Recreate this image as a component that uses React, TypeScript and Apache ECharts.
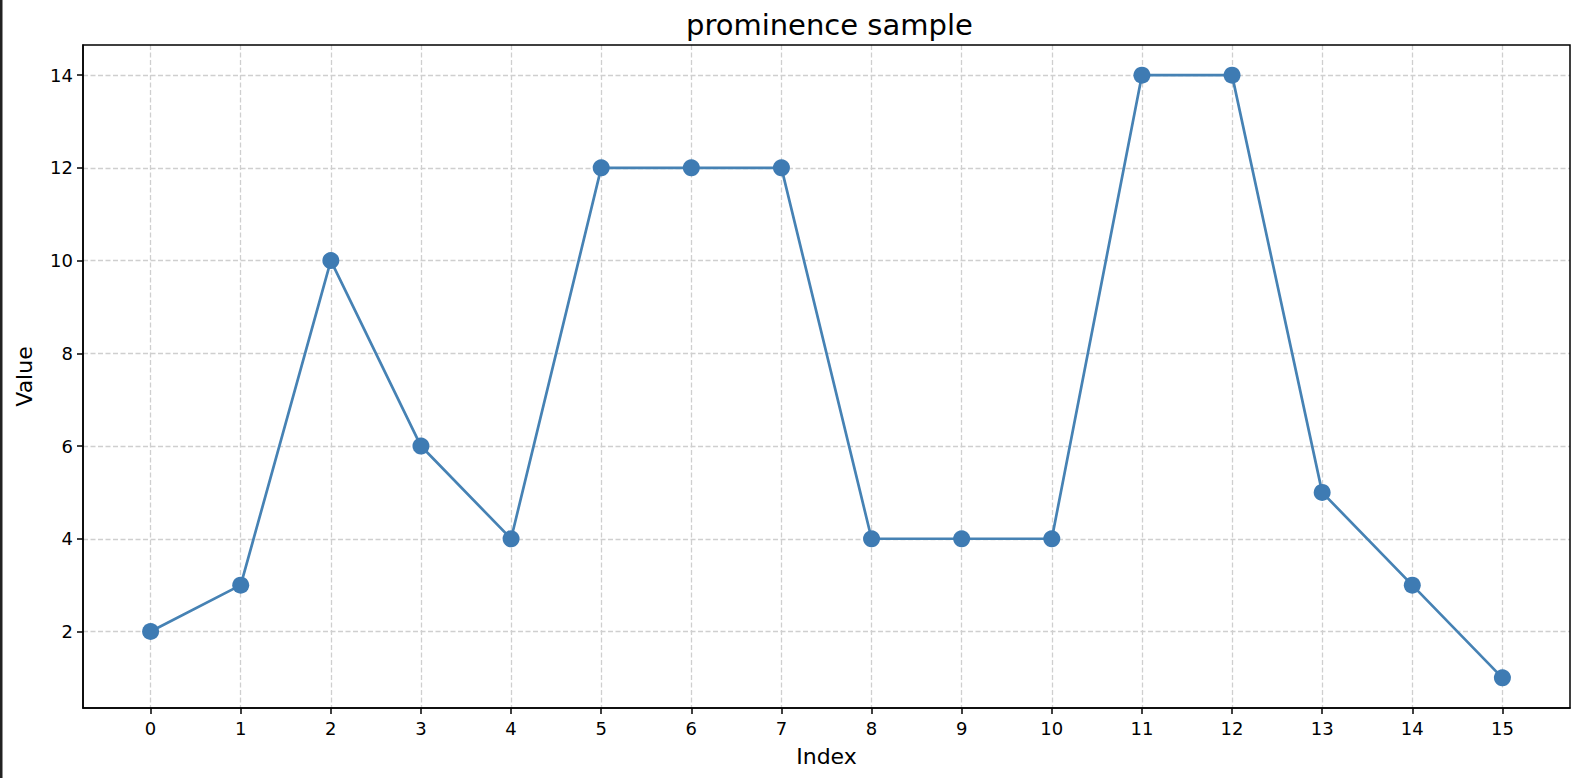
import React, { useEffect, useRef } from "react";
import * as echarts from "echarts";

const indices = [0, 1, 2, 3, 4, 5, 6, 7, 8, 9, 10, 11, 12, 13, 14, 15];
const values = [2, 3, 10, 6, 4, 12, 12, 12, 4, 4, 4, 14, 14, 5, 3, 1];
const xTicks = [0, 1, 2, 3, 4, 5, 6, 7, 8, 9, 10, 11, 12, 13, 14, 15];
const yTicks = [2, 4, 6, 8, 10, 12, 14];
const titleText = "prominence sample";
const xName = "Index";
const yName = "Value";

const FONT = "DejaVu Sans";

export default function App() {
  const ref = useRef<HTMLDivElement>(null);
  useEffect(() => {
    document.body.style.margin = "0";
    const chart = echarts.init(ref.current!, null, { renderer: "svg" });
    const data = indices.map((x, i) => [x, values[i]]);
    const gridLine = { show: true, lineStyle: { color: "#cfcfcf", type: [5, 2.5], width: 1.3 } };
    chart.setOption({
      animation: false,
      backgroundColor: "#ffffff",
      title: {
        text: titleText,
        left: 681,
        top: 5,
        textStyle: { fontFamily: FONT, fontSize: 29, fontWeight: "normal", color: "#000" },
      },
      grid: { left: 83, right: 8, top: 45, bottom: 70, containLabel: false },
      xAxis: {
        type: "value",
        min: -0.75,
        max: 15.75,
        name: xName,
        nameLocation: "middle",
        nameGap: 37,
        nameTextStyle: { fontFamily: FONT, fontSize: 22, color: "#000" },
        axisLine: { show: true, onZero: false, lineStyle: { color: "#000", width: 1.5 } },
        axisTick: { show: true, length: 6, customValues: xTicks, lineStyle: { color: "#000", width: 1.5 } },
        axisLabel: {
          customValues: xTicks,
          fontFamily: FONT,
          fontSize: 18,
          color: "#000",
          margin: 11,
        },
        splitLine: gridLine,
      },
      yAxis: {
        type: "value",
        min: 0.35,
        max: 14.65,
        name: yName,
        nameLocation: "middle",
        nameGap: 48,
        nameTextStyle: { fontFamily: FONT, fontSize: 22, color: "#000" },
        axisLine: { show: true, onZero: false, lineStyle: { color: "#000", width: 1.5 } },
        axisTick: { show: true, length: 6, customValues: yTicks, lineStyle: { color: "#000", width: 1.5 } },
        axisLabel: {
          customValues: yTicks,
          fontFamily: FONT,
          fontSize: 18,
          color: "#000",
          margin: 10,
        },
        splitLine: gridLine,
      },
      graphic: [
        {
          type: "rect",
          shape: { x: 83, y: 45, width: 1578 - 8 - 83, height: 778 - 70 - 45 },
          style: { fill: "none", stroke: "#000", lineWidth: 1.5 },
          silent: true,
          z: 10,
        },
        {
          type: "rect",
          shape: { x: 0, y: 0, width: 2.5, height: 778 },
          style: { fill: "#222" },
          silent: true,
        },
      ],
      series: [
        {
          type: "line",
          data,
          symbol: "circle",
          symbolSize: 17,
          lineStyle: { color: "#4682B4", width: 2.7 },
          itemStyle: { color: "#3E7BB3" },
          z: 5,
        },
      ],
    });
    return () => chart.dispose();
  }, []);
  return <div ref={ref} style={{ width: 1578, height: 778 }} />;
}
